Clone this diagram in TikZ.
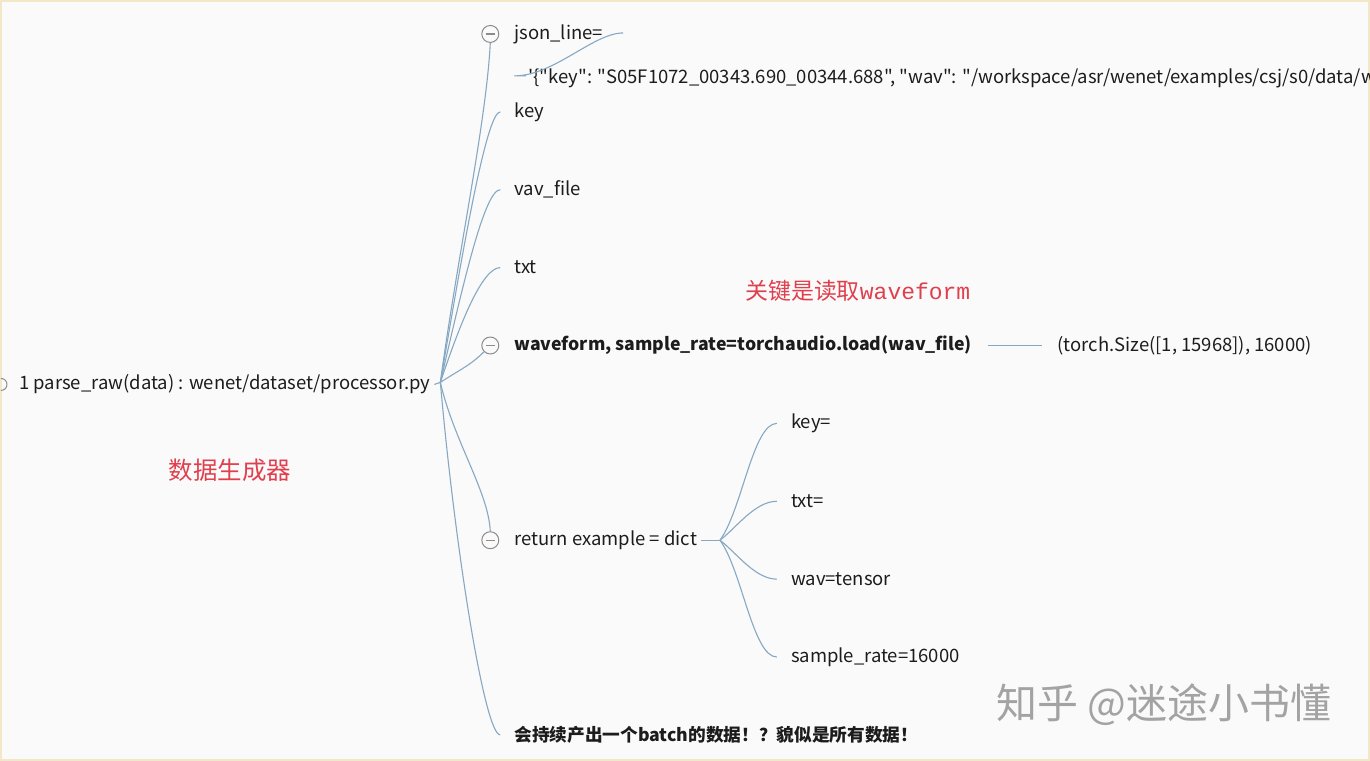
\documentclass[tikz,border=0pt]{standalone}
\usepackage{fontspec}
\setmainfont{Noto Sans CJK SC}
\newfontfamily\rawfont{Noto Sans CJK SC}
\newfontfamily\monofont{Liberation Mono}
\usetikzlibrary{calc}
\definecolor{bgc}{HTML}{FAFAFA}
\definecolor{framec}{HTML}{F2E8C8}
\definecolor{edgec}{HTML}{86A8C2}
\definecolor{txtc}{HTML}{1C1C1C}
\definecolor{foldc}{HTML}{8C8C8C}
\definecolor{redc}{HTML}{E0404E}
\definecolor{wmc}{HTML}{A3A3A3}
\tikzset{
  edge/.style={draw=edgec, line width=1.1pt},
  txt/.style={anchor=west, inner sep=0pt, text=txtc, font=\fontsize{18.5}{21}\selectfont},
  leaf/.style={txt, inner xsep=14pt},
  bold/.style={font=\fontsize{17.7}{20}\selectfont\bfseries},
  fold/.style={circle, draw=foldc, line width=1pt, minimum size=17pt, inner sep=0pt,
    path picture={\draw[foldc, line width=1.4pt] ([xshift=-4.5pt]path picture bounding box.center) -- ([xshift=4.5pt]path picture bounding box.center);}},
  note/.style={text=redc, inner sep=0pt, font=\fontsize{23}{26}\selectfont},
  wm/.style={text=wmc, inner sep=0pt, font=\fontsize{41}{44}\selectfont},
}
\begin{document}
\begin{tikzpicture}[x=1pt,y=-1pt]
\fill[bgc] (0,0) rectangle (1370,760);
\draw[framec, line width=2pt] (0,0) rectangle (1370,760);
\clip (0,0) rectangle (1370,760);

% root
\node[circle, draw=foldc, line width=1pt, minimum size=12pt, inner sep=0pt] (rootfold) at (0,384) {};
\node[txt] (root) at (18,384) {1 parse\_raw(data) : wenet/dataset/processor.py};
\coordinate (hub) at (440,382);
\draw[edge] (root.east) ++(4,0) -- (hub);

% first level
\node[fold] (f1) at (490,33) {};
\node[txt] (json) at (514,33) {json\_line=};
\node[txt, font=\fontsize{18.5}{21}\rawfont] (jsonval) at (528,77) {'\{"key": "S05F1072\_00343.690\_00344.688", "wav": "/workspace/asr/wenet/examples/csj/s0/data/wav};
\node[leaf] (key) at (500,111) {key};
\node[leaf] (vav) at (500,189) {vav\_file};
\node[leaf] (txt) at (500,267) {txt};
\node[fold] (f2) at (490,345) {};
\node[txt, bold] (wf) at (514,345) {waveform, sample\_rate=torchaudio.load(wav\_file)};
\node[txt] (torch) at (1058,345) {(torch.Size([1, 15968]), 16000)};
\node[fold] (f3) at (490,540) {};
\node[txt] (ret) at (514,540) {return example = dict};
\node[leaf, bold] (batch) at (500,735) {会持续产出一个batch的数据！？貌似是所有数据！};

% second level under dict
\coordinate (hub2) at (720,540);
\node[leaf] (skey) at (777,423) {key=};
\node[leaf] (stxt) at (777,501) {txt=};
\node[leaf] (swav) at (777,579) {wav=tensor};
\node[leaf] (ssr) at (777,657) {sample\_rate=16000};

% edges from hub
\draw[edge] (hub) .. controls +(16,-120) and +(-4,80) .. (f1.south);
\draw[edge] (hub) .. controls +(22,-130) and +(-14,0) .. (key.west);
\draw[edge] (hub) .. controls +(22,-95) and +(-16,0) .. (vav.west);
\draw[edge] (hub) .. controls +(20,-60) and +(-18,0) .. (txt.west);
\draw[edge] (hub) .. controls +(18,-12) and +(-14,14) .. (f2.south west);
\draw[edge] (hub) .. controls +(14,60) and +(-2,-40) .. (f3.north);
\draw[edge] (hub) .. controls +(14,160) and +(-16,0) .. (batch.west);

% json value connector
\draw[edge] ($(json.east)+(20,-1)$) .. controls +(-30,0) and +(40,0) .. ($(jsonval.west)+(-14,-2)$) -- +(12,0);

% waveform result
\draw[edge] ($(wf.east)+(16,0)$) -- ($(torch.west)+(-15,0)$);

% dict children
\draw[edge] (ret.east) ++(4,0) -- (hub2);
\draw[edge] (hub2) .. controls +(22,-30) and +(-24,0) .. (skey.west);
\draw[edge] (hub2) .. controls +(16,-12) and +(-22,0) .. (stxt.west);
\draw[edge] (hub2) .. controls +(16,12) and +(-22,0) .. (swav.west);
\draw[edge] (hub2) .. controls +(22,30) and +(-24,0) .. (ssr.west);

% annotations
\node[note, anchor=west] (n1) at (745,290) {关键是读取{\monofont waveform}};
\node[note, anchor=west, font=\fontsize{24.5}{27}\selectfont] (n2) at (168,470) {数据生成器};
\node[wm, anchor=west] (wmark) at (997,705) {知乎 @迷途小书懂};
\end{tikzpicture}
\end{document}
